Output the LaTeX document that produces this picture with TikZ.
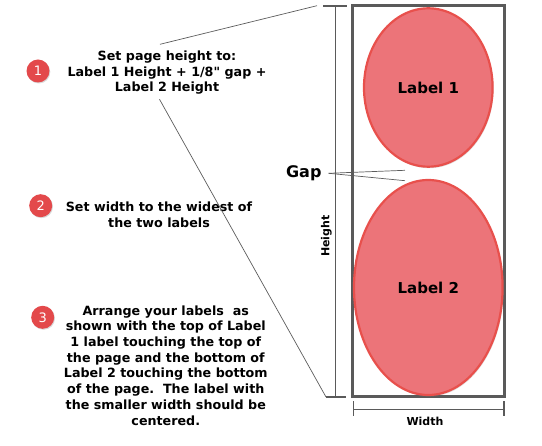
\documentclass[tikz,border=0pt]{standalone}
\usepackage{fontspec}
\setmainfont{DejaVu Sans}[Ligatures=TeXOff]
\usetikzlibrary{shapes.geometric,shadows}
\definecolor{lblfill}{HTML}{EC7479}
\definecolor{lbledge}{HTML}{E8504C}
\definecolor{badgered}{HTML}{E3494B}
\definecolor{pagegray}{HTML}{5A5A5A}
\definecolor{leadgray}{HTML}{5C5C5C}
\tikzset{
  badge/.style={circle, fill=badgered, minimum size=23pt, inner sep=0pt, text=white,
    font=\fontsize{13}{13}\selectfont,
    drop shadow={opacity=0.3, shadow xshift=0.8pt, shadow yshift=-1pt}},
  steptext/.style={align=center, inner sep=0pt, font=\bfseries\fontsize{12.7}{15.7}\selectfont},
  lbl/.style={ellipse, draw=lbledge, fill=lblfill, line width=2.2pt, inner sep=0pt,
    font=\bfseries\fontsize{15}{15}\selectfont,
    drop shadow={opacity=0.25, shadow xshift=1pt, shadow yshift=-1.5pt}},
  lead/.style={draw=leadgray, line width=0.7pt},
  dim/.style={draw=pagegray, line width=1.4pt},
  dimtext/.style={font=\bfseries\fontsize{11}{11}\selectfont, inner sep=0pt}
}
\begin{document}
\begin{tikzpicture}[x=1pt,y=-1pt]
  \useasboundingbox (0,0) rectangle (542,446);
  \node[rectangle, draw=pagegray, line width=3pt, minimum width=152pt, minimum height=391pt, inner sep=0pt]
    (page) at (428,201.5) {};
  \node[lbl, minimum width=128.6pt, minimum height=158.4pt] (l1) at (428.3,87.5) {Label 1};
  \node[lbl, minimum width=148.6pt, minimum height=215pt] (l2) at (428.3,287.5) {Label 2};

  \node[badge] (b1) at (38,71) {1};
  \node[badge] (b2) at (40.7,205.7) {2};
  \node[badge] (b3) at (42.7,317.3) {3};
  \node[steptext] (t1) at (167,72.7) {Set page height to:\\Label 1 Height + 1/8" gap +\\Label 2 Height};
  \node[steptext] (t2) at (159,214.5) {Set width to the widest of\\the two labels};
  \node[steptext] (t3) at (165.8,365.4) {Arrange your labels\ \ as\\shown with the top of Label\\1 label touching the top of\\the page and the bottom of\\Label 2 touching the bottom\\of the page.\ \ The label with\\the smaller width should be\\centered.};

  \coordinate (ht1) at (323,6);
  \coordinate (ht2) at (347,6);
  \coordinate (hb1) at (326,397);
  \coordinate (hb2) at (346,397);
  \coordinate (htop) at (335.7,6);
  \coordinate (hbot) at (335.7,397);
  \draw[dim] (ht1) -- (ht2);
  \draw[dim] (hb1) -- (hb2);
  \draw[dim] (htop) -- (hbot);
  \node[dimtext, rotate=90] (hlab) at (326.5,236) {Height};

  \coordinate (wl) at (353.3,409.3);
  \coordinate (wr) at (504,409.3);
  \draw[dim] (wl) -- (wr);
  \draw[dim] ([yshift=-6.7pt]wl) -- ([yshift=8pt]wl);
  \draw[dim] ([yshift=-6.7pt]wr) -- ([yshift=8pt]wr);
  \node[dimtext] (wlab) at (425,421.7) {Width};

  \node[font=\bfseries\fontsize{16}{16}\selectfont, inner sep=0pt] (gap) at (303.8,173.3) {Gap};
  \coordinate (g1) at (405,170.3);
  \coordinate (g2) at (405,180.7);
  \coordinate (ltop) at (317,5.7);
  \coordinate (t1a) at (160,44.3);
  \coordinate (t1b) at (159.5,99.3);
  \draw[lead] (t1a) -- (ltop);
  \draw[lead] (t1b) -- (hb1);
  \draw[lead] ([xshift=7pt]gap.east) -- (g1);
  \draw[lead] ([xshift=7pt]gap.east) -- (g2);
\end{tikzpicture}
\end{document}
